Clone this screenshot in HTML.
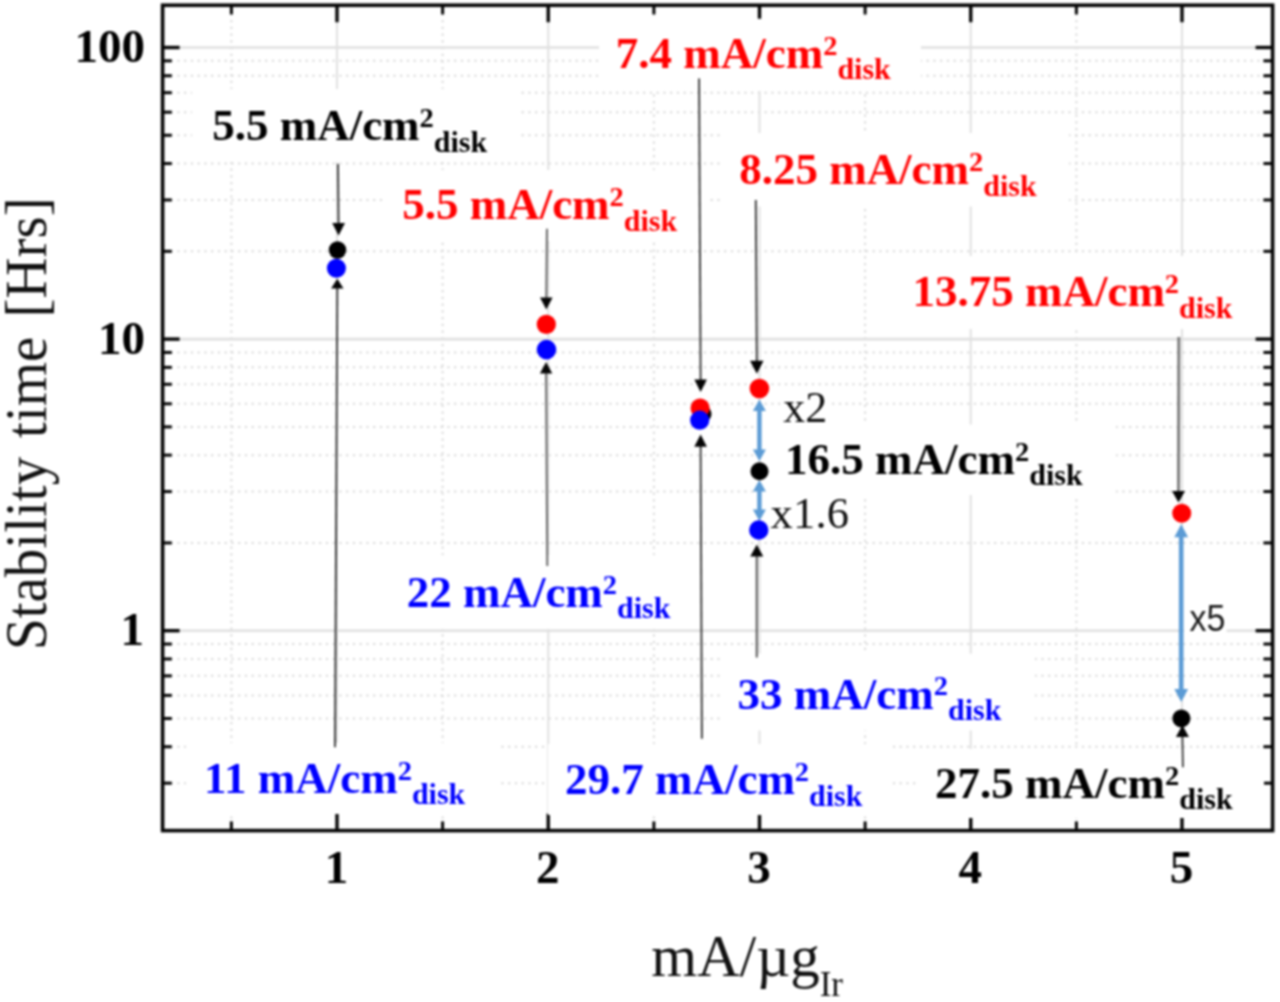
<!DOCTYPE html>
<html lang="en">
<head>
<meta charset="utf-8">
<title>Stability time vs mass activity</title>
<style>
html,body{margin:0;padding:0;background:#fff;}
body{width:1280px;height:1002px;overflow:hidden;}
svg{display:block;}
</style>
</head>
<body>
<svg width="1280" height="1002" viewBox="0 0 1280 1002">
<defs><filter id="soft" x="0" y="0" width="1280" height="1002" filterUnits="userSpaceOnUse" color-interpolation-filters="sRGB"><feGaussianBlur stdDeviation="0.8"/></filter></defs>
<g filter="url(#soft)">
<rect x="-20" y="-20" width="1320" height="1042" fill="#fff"/>
<g id="grid" fill="none">
<line x1="170.60" y1="783.17" x2="1264.60" y2="783.17" stroke="#dadada" stroke-width="2" stroke-dasharray="2.2 4.55"/>
<line x1="170.60" y1="746.74" x2="1264.60" y2="746.74" stroke="#dadada" stroke-width="2" stroke-dasharray="2.2 4.55"/>
<line x1="170.60" y1="718.48" x2="1264.60" y2="718.48" stroke="#dadada" stroke-width="2" stroke-dasharray="2.2 4.55"/>
<line x1="170.60" y1="695.39" x2="1264.60" y2="695.39" stroke="#dadada" stroke-width="2" stroke-dasharray="2.2 4.55"/>
<line x1="170.60" y1="675.87" x2="1264.60" y2="675.87" stroke="#dadada" stroke-width="2" stroke-dasharray="2.2 4.55"/>
<line x1="170.60" y1="658.96" x2="1264.60" y2="658.96" stroke="#dadada" stroke-width="2" stroke-dasharray="2.2 4.55"/>
<line x1="170.60" y1="644.04" x2="1264.60" y2="644.04" stroke="#dadada" stroke-width="2" stroke-dasharray="2.2 4.55"/>
<line x1="170.60" y1="542.92" x2="1264.60" y2="542.92" stroke="#dadada" stroke-width="2" stroke-dasharray="2.2 4.55"/>
<line x1="170.60" y1="491.57" x2="1264.60" y2="491.57" stroke="#dadada" stroke-width="2" stroke-dasharray="2.2 4.55"/>
<line x1="170.60" y1="455.14" x2="1264.60" y2="455.14" stroke="#dadada" stroke-width="2" stroke-dasharray="2.2 4.55"/>
<line x1="170.60" y1="426.88" x2="1264.60" y2="426.88" stroke="#dadada" stroke-width="2" stroke-dasharray="2.2 4.55"/>
<line x1="170.60" y1="403.79" x2="1264.60" y2="403.79" stroke="#dadada" stroke-width="2" stroke-dasharray="2.2 4.55"/>
<line x1="170.60" y1="384.27" x2="1264.60" y2="384.27" stroke="#dadada" stroke-width="2" stroke-dasharray="2.2 4.55"/>
<line x1="170.60" y1="367.36" x2="1264.60" y2="367.36" stroke="#dadada" stroke-width="2" stroke-dasharray="2.2 4.55"/>
<line x1="170.60" y1="352.44" x2="1264.60" y2="352.44" stroke="#dadada" stroke-width="2" stroke-dasharray="2.2 4.55"/>
<line x1="170.60" y1="251.32" x2="1264.60" y2="251.32" stroke="#dadada" stroke-width="2" stroke-dasharray="2.2 4.55"/>
<line x1="170.60" y1="199.97" x2="1264.60" y2="199.97" stroke="#dadada" stroke-width="2" stroke-dasharray="2.2 4.55"/>
<line x1="170.60" y1="163.54" x2="1264.60" y2="163.54" stroke="#dadada" stroke-width="2" stroke-dasharray="2.2 4.55"/>
<line x1="170.60" y1="135.28" x2="1264.60" y2="135.28" stroke="#dadada" stroke-width="2" stroke-dasharray="2.2 4.55"/>
<line x1="170.60" y1="112.19" x2="1264.60" y2="112.19" stroke="#dadada" stroke-width="2" stroke-dasharray="2.2 4.55"/>
<line x1="170.60" y1="92.67" x2="1264.60" y2="92.67" stroke="#dadada" stroke-width="2" stroke-dasharray="2.2 4.55"/>
<line x1="170.60" y1="75.76" x2="1264.60" y2="75.76" stroke="#dadada" stroke-width="2" stroke-dasharray="2.2 4.55"/>
<line x1="170.60" y1="60.84" x2="1264.60" y2="60.84" stroke="#dadada" stroke-width="2" stroke-dasharray="2.2 4.55"/>
<line x1="231.38" y1="13.20" x2="231.38" y2="822.60" stroke="#dadada" stroke-width="2" stroke-dasharray="2.2 4.55"/>
<line x1="442.62" y1="13.20" x2="442.62" y2="822.60" stroke="#dadada" stroke-width="2" stroke-dasharray="2.2 4.55"/>
<line x1="653.88" y1="13.20" x2="653.88" y2="822.60" stroke="#dadada" stroke-width="2" stroke-dasharray="2.2 4.55"/>
<line x1="865.12" y1="13.20" x2="865.12" y2="822.60" stroke="#dadada" stroke-width="2" stroke-dasharray="2.2 4.55"/>
<line x1="1076.38" y1="13.20" x2="1076.38" y2="822.60" stroke="#dadada" stroke-width="2" stroke-dasharray="2.2 4.55"/>
<line x1="162.60" y1="630.70" x2="1272.60" y2="630.70" stroke="#e0e0e0" stroke-width="2.6"/>
<line x1="162.60" y1="339.10" x2="1272.60" y2="339.10" stroke="#e0e0e0" stroke-width="2.6"/>
<line x1="162.60" y1="47.50" x2="1272.60" y2="47.50" stroke="#e0e0e0" stroke-width="2.6"/>
<line x1="337.00" y1="5.20" x2="337.00" y2="830.60" stroke="#e0e0e0" stroke-width="2"/>
<line x1="548.25" y1="5.20" x2="548.25" y2="830.60" stroke="#e0e0e0" stroke-width="2"/>
<line x1="759.50" y1="5.20" x2="759.50" y2="830.60" stroke="#e0e0e0" stroke-width="2"/>
<line x1="970.75" y1="5.20" x2="970.75" y2="830.60" stroke="#e0e0e0" stroke-width="2"/>
<line x1="1182.00" y1="5.20" x2="1182.00" y2="830.60" stroke="#e0e0e0" stroke-width="2"/>
</g>
<g id="axes" stroke="#050505" fill="none">
<rect x="162.60" y="5.20" width="1110.00" height="825.40" stroke-width="3.60"/>
<line x1="162.60" y1="783.17" x2="171.80" y2="783.17" stroke-width="3.0"/>
<line x1="1272.60" y1="783.17" x2="1263.40" y2="783.17" stroke-width="3.0"/>
<line x1="162.60" y1="746.74" x2="171.80" y2="746.74" stroke-width="3.0"/>
<line x1="1272.60" y1="746.74" x2="1263.40" y2="746.74" stroke-width="3.0"/>
<line x1="162.60" y1="718.48" x2="171.80" y2="718.48" stroke-width="3.0"/>
<line x1="1272.60" y1="718.48" x2="1263.40" y2="718.48" stroke-width="3.0"/>
<line x1="162.60" y1="695.39" x2="171.80" y2="695.39" stroke-width="3.0"/>
<line x1="1272.60" y1="695.39" x2="1263.40" y2="695.39" stroke-width="3.0"/>
<line x1="162.60" y1="675.87" x2="171.80" y2="675.87" stroke-width="3.0"/>
<line x1="1272.60" y1="675.87" x2="1263.40" y2="675.87" stroke-width="3.0"/>
<line x1="162.60" y1="658.96" x2="171.80" y2="658.96" stroke-width="3.0"/>
<line x1="1272.60" y1="658.96" x2="1263.40" y2="658.96" stroke-width="3.0"/>
<line x1="162.60" y1="644.04" x2="171.80" y2="644.04" stroke-width="3.0"/>
<line x1="1272.60" y1="644.04" x2="1263.40" y2="644.04" stroke-width="3.0"/>
<line x1="162.60" y1="630.70" x2="179.60" y2="630.70" stroke-width="3.4"/>
<line x1="1272.60" y1="630.70" x2="1255.60" y2="630.70" stroke-width="3.4"/>
<line x1="162.60" y1="542.92" x2="171.80" y2="542.92" stroke-width="3.0"/>
<line x1="1272.60" y1="542.92" x2="1263.40" y2="542.92" stroke-width="3.0"/>
<line x1="162.60" y1="491.57" x2="171.80" y2="491.57" stroke-width="3.0"/>
<line x1="1272.60" y1="491.57" x2="1263.40" y2="491.57" stroke-width="3.0"/>
<line x1="162.60" y1="455.14" x2="171.80" y2="455.14" stroke-width="3.0"/>
<line x1="1272.60" y1="455.14" x2="1263.40" y2="455.14" stroke-width="3.0"/>
<line x1="162.60" y1="426.88" x2="171.80" y2="426.88" stroke-width="3.0"/>
<line x1="1272.60" y1="426.88" x2="1263.40" y2="426.88" stroke-width="3.0"/>
<line x1="162.60" y1="403.79" x2="171.80" y2="403.79" stroke-width="3.0"/>
<line x1="1272.60" y1="403.79" x2="1263.40" y2="403.79" stroke-width="3.0"/>
<line x1="162.60" y1="384.27" x2="171.80" y2="384.27" stroke-width="3.0"/>
<line x1="1272.60" y1="384.27" x2="1263.40" y2="384.27" stroke-width="3.0"/>
<line x1="162.60" y1="367.36" x2="171.80" y2="367.36" stroke-width="3.0"/>
<line x1="1272.60" y1="367.36" x2="1263.40" y2="367.36" stroke-width="3.0"/>
<line x1="162.60" y1="352.44" x2="171.80" y2="352.44" stroke-width="3.0"/>
<line x1="1272.60" y1="352.44" x2="1263.40" y2="352.44" stroke-width="3.0"/>
<line x1="162.60" y1="339.10" x2="179.60" y2="339.10" stroke-width="3.4"/>
<line x1="1272.60" y1="339.10" x2="1255.60" y2="339.10" stroke-width="3.4"/>
<line x1="162.60" y1="251.32" x2="171.80" y2="251.32" stroke-width="3.0"/>
<line x1="1272.60" y1="251.32" x2="1263.40" y2="251.32" stroke-width="3.0"/>
<line x1="162.60" y1="199.97" x2="171.80" y2="199.97" stroke-width="3.0"/>
<line x1="1272.60" y1="199.97" x2="1263.40" y2="199.97" stroke-width="3.0"/>
<line x1="162.60" y1="163.54" x2="171.80" y2="163.54" stroke-width="3.0"/>
<line x1="1272.60" y1="163.54" x2="1263.40" y2="163.54" stroke-width="3.0"/>
<line x1="162.60" y1="135.28" x2="171.80" y2="135.28" stroke-width="3.0"/>
<line x1="1272.60" y1="135.28" x2="1263.40" y2="135.28" stroke-width="3.0"/>
<line x1="162.60" y1="112.19" x2="171.80" y2="112.19" stroke-width="3.0"/>
<line x1="1272.60" y1="112.19" x2="1263.40" y2="112.19" stroke-width="3.0"/>
<line x1="162.60" y1="92.67" x2="171.80" y2="92.67" stroke-width="3.0"/>
<line x1="1272.60" y1="92.67" x2="1263.40" y2="92.67" stroke-width="3.0"/>
<line x1="162.60" y1="75.76" x2="171.80" y2="75.76" stroke-width="3.0"/>
<line x1="1272.60" y1="75.76" x2="1263.40" y2="75.76" stroke-width="3.0"/>
<line x1="162.60" y1="60.84" x2="171.80" y2="60.84" stroke-width="3.0"/>
<line x1="1272.60" y1="60.84" x2="1263.40" y2="60.84" stroke-width="3.0"/>
<line x1="162.60" y1="47.50" x2="179.60" y2="47.50" stroke-width="3.4"/>
<line x1="1272.60" y1="47.50" x2="1255.60" y2="47.50" stroke-width="3.4"/>
<line x1="231.38" y1="5.20" x2="231.38" y2="14.40" stroke-width="3.0"/>
<line x1="231.38" y1="830.60" x2="231.38" y2="821.40" stroke-width="3.0"/>
<line x1="337.00" y1="5.20" x2="337.00" y2="22.20" stroke-width="3.4"/>
<line x1="337.00" y1="830.60" x2="337.00" y2="813.60" stroke-width="3.4"/>
<line x1="442.62" y1="5.20" x2="442.62" y2="14.40" stroke-width="3.0"/>
<line x1="442.62" y1="830.60" x2="442.62" y2="821.40" stroke-width="3.0"/>
<line x1="548.25" y1="5.20" x2="548.25" y2="22.20" stroke-width="3.4"/>
<line x1="548.25" y1="830.60" x2="548.25" y2="813.60" stroke-width="3.4"/>
<line x1="653.88" y1="5.20" x2="653.88" y2="14.40" stroke-width="3.0"/>
<line x1="653.88" y1="830.60" x2="653.88" y2="821.40" stroke-width="3.0"/>
<line x1="759.50" y1="5.20" x2="759.50" y2="22.20" stroke-width="3.4"/>
<line x1="759.50" y1="830.60" x2="759.50" y2="813.60" stroke-width="3.4"/>
<line x1="865.12" y1="5.20" x2="865.12" y2="14.40" stroke-width="3.0"/>
<line x1="865.12" y1="830.60" x2="865.12" y2="821.40" stroke-width="3.0"/>
<line x1="970.75" y1="5.20" x2="970.75" y2="22.20" stroke-width="3.4"/>
<line x1="970.75" y1="830.60" x2="970.75" y2="813.60" stroke-width="3.4"/>
<line x1="1076.38" y1="5.20" x2="1076.38" y2="14.40" stroke-width="3.0"/>
<line x1="1076.38" y1="830.60" x2="1076.38" y2="821.40" stroke-width="3.0"/>
<line x1="1182.00" y1="5.20" x2="1182.00" y2="22.20" stroke-width="3.4"/>
<line x1="1182.00" y1="830.60" x2="1182.00" y2="813.60" stroke-width="3.4"/>
</g>
<g id="boxes" fill="#fff">
<rect x="192.00" y="89.00" width="326.00" height="73.00"/>
<rect x="386.00" y="170.00" width="320.00" height="71.00"/>
<rect x="599.00" y="18.75" width="322.00" height="72.25"/>
<rect x="723.00" y="133.00" width="346.00" height="73.50"/>
<rect x="896.00" y="256.00" width="369.00" height="73.00"/>
<rect x="763.00" y="424.50" width="353.00" height="70.50"/>
<rect x="388.00" y="555.00" width="310.00" height="74.00"/>
<rect x="723.75" y="653.75" width="311.25" height="76.75"/>
<rect x="186.00" y="743.00" width="311.00" height="71.00"/>
<rect x="548.00" y="744.00" width="345.00" height="71.00"/>
<rect x="919.00" y="749.00" width="345.00" height="69.00"/>
<rect x="781.00" y="390.00" width="47.00" height="34.50"/>
<rect x="766.00" y="495.00" width="86.00" height="43.00"/>
<rect x="1184.00" y="598.00" width="42.50" height="39.00"/>
</g>
<g id="arrows">
<line x1="338.00" y1="164.00" x2="338.60" y2="224.00" stroke="#383838" stroke-width="1.90"/>
<polygon points="332.20,223.00 345.00,223.00 338.60,235.60" fill="#050505"/>
<line x1="335.00" y1="747.30" x2="337.30" y2="287.50" stroke="#383838" stroke-width="1.90"/>
<polygon points="331.10,288.50 343.50,288.50 337.30,278.70" fill="#050505"/>
<line x1="547.00" y1="228.75" x2="546.30" y2="298.60" stroke="#666" stroke-width="2.00"/>
<polygon points="540.00,297.60 552.60,297.60 546.30,309.40" fill="#050505"/>
<line x1="547.30" y1="566.00" x2="546.10" y2="372.50" stroke="#666" stroke-width="2.00"/>
<polygon points="539.90,373.50 552.30,373.50 546.10,362.00" fill="#050505"/>
<line x1="699.10" y1="78.40" x2="700.60" y2="380.60" stroke="#383838" stroke-width="1.90"/>
<polygon points="694.30,379.60 706.90,379.60 700.60,392.00" fill="#050505"/>
<line x1="701.90" y1="738.75" x2="700.60" y2="445.80" stroke="#383838" stroke-width="1.90"/>
<polygon points="694.30,446.80 706.90,446.80 700.60,434.60" fill="#050505"/>
<line x1="755.80" y1="200.00" x2="756.80" y2="361.75" stroke="#383838" stroke-width="1.90"/>
<polygon points="750.05,360.75 763.55,360.75 756.80,373.75" fill="#050505"/>
<line x1="756.75" y1="657.50" x2="756.75" y2="555.50" stroke="#555" stroke-width="2.00"/>
<polygon points="750.25,556.50 763.25,556.50 756.75,544.50" fill="#050505"/>
<line x1="1178.80" y1="337.00" x2="1178.50" y2="492.10" stroke="#777" stroke-width="2.80"/>
<polygon points="1172.00,491.10 1185.00,491.10 1178.50,502.60" fill="#050505"/>
<line x1="1182.90" y1="767.30" x2="1182.40" y2="736.00" stroke="#383838" stroke-width="1.80"/>
<polygon points="1175.90,737.00 1188.90,737.00 1182.40,725.00" fill="#050505"/>
<line x1="759.40" y1="410.00" x2="759.40" y2="450.50" stroke="#5b9bd5" stroke-width="4.40"/>
<polygon points="752.90,411.00 765.90,411.00 759.40,399.50" fill="#5b9bd5"/>
<polygon points="752.90,449.50 765.90,449.50 759.40,461.00" fill="#5b9bd5"/>
<line x1="759.40" y1="490.50" x2="759.40" y2="510.50" stroke="#5b9bd5" stroke-width="4.40"/>
<polygon points="752.90,491.50 765.90,491.50 759.40,480.00" fill="#5b9bd5"/>
<polygon points="752.90,509.50 765.90,509.50 759.40,521.00" fill="#5b9bd5"/>
<line x1="1181.20" y1="536.20" x2="1181.20" y2="690.00" stroke="#5b9bd5" stroke-width="4.60"/>
<polygon points="1174.30,537.20 1188.10,537.20 1181.20,524.20" fill="#5b9bd5"/>
<polygon points="1174.30,689.00 1188.10,689.00 1181.20,702.00" fill="#5b9bd5"/>
</g>
<g id="dots">
<circle cx="337.50" cy="250.00" r="8.70" fill="#000"/>
<circle cx="336.40" cy="268.30" r="9.50" fill="#0000ff"/>
<circle cx="546.30" cy="324.40" r="9.60" fill="#ff0000"/>
<circle cx="546.50" cy="349.60" r="9.80" fill="#0000ff"/>
<circle cx="703.30" cy="414.00" r="8.20" fill="#000"/>
<circle cx="700.10" cy="408.00" r="9.60" fill="#ff0000"/>
<circle cx="699.70" cy="420.20" r="9.60" fill="#0000ff"/>
<circle cx="759.40" cy="388.50" r="9.80" fill="#ff0000"/>
<circle cx="759.50" cy="471.25" r="9.00" fill="#000"/>
<circle cx="758.75" cy="530.00" r="9.70" fill="#0000ff"/>
<circle cx="1181.75" cy="513.25" r="9.50" fill="#ff0000"/>
<circle cx="1181.40" cy="718.40" r="9.00" fill="#000"/>
</g>
<g id="labels">
<text transform="translate(212.20,140.40) scale(1,0.965)" fill="#000" font-family="'Liberation Serif','Times New Roman',Times,serif" font-weight="700" font-size="45.0" xml:space="preserve">5.5 mA/cm<tspan font-size="28.5" dy="-13.5">2</tspan><tspan font-size="30.0" dy="25.5">disk</tspan></text>
<text transform="translate(402.20,219.30) scale(1,0.965)" fill="#ff0000" font-family="'Liberation Serif','Times New Roman',Times,serif" font-weight="700" font-size="45.0" xml:space="preserve">5.5 mA/cm<tspan font-size="28.5" dy="-13.5">2</tspan><tspan font-size="30.0" dy="25.5">disk</tspan></text>
<text transform="translate(615.80,67.90) scale(1,0.965)" fill="#ff0000" font-family="'Liberation Serif','Times New Roman',Times,serif" font-weight="700" font-size="45.0" xml:space="preserve">7.4 mA/cm<tspan font-size="28.5" dy="-13.5">2</tspan><tspan font-size="30.0" dy="25.5">disk</tspan></text>
<text transform="translate(739.20,184.00) scale(1,0.965)" fill="#ff0000" font-family="'Liberation Serif','Times New Roman',Times,serif" font-weight="700" font-size="45.0" xml:space="preserve">8.25 mA/cm<tspan font-size="28.5" dy="-13.5">2</tspan><tspan font-size="30.0" dy="25.5">disk</tspan></text>
<text transform="translate(912.50,306.30) scale(1,0.965)" fill="#ff0000" font-family="'Liberation Serif','Times New Roman',Times,serif" font-weight="700" font-size="45.0" xml:space="preserve">13.75 mA/cm<tspan font-size="28.5" dy="-13.5">2</tspan><tspan font-size="30.0" dy="25.5">disk</tspan></text>
<text transform="translate(785.10,473.75) scale(1,0.965)" fill="#000" font-family="'Liberation Serif','Times New Roman',Times,serif" font-weight="700" font-size="45.0" xml:space="preserve">16.5 mA/cm<tspan font-size="28.5" dy="-13.5">2</tspan><tspan font-size="30.0" dy="25.5">disk</tspan></text>
<text transform="translate(406.70,606.80) scale(1,0.965)" fill="#0000ff" font-family="'Liberation Serif','Times New Roman',Times,serif" font-weight="700" font-size="45.0" xml:space="preserve">22 mA/cm<tspan font-size="28.5" dy="-13.5">2</tspan><tspan font-size="30.0" dy="25.5">disk</tspan></text>
<text transform="translate(737.60,708.50) scale(1,0.965)" fill="#0000ff" font-family="'Liberation Serif','Times New Roman',Times,serif" font-weight="700" font-size="45.0" xml:space="preserve">33 mA/cm<tspan font-size="28.5" dy="-13.5">2</tspan><tspan font-size="30.0" dy="25.5">disk</tspan></text>
<text transform="translate(204.00,792.60) scale(1,0.965)" fill="#0000ff" font-family="'Liberation Serif','Times New Roman',Times,serif" font-weight="700" font-size="45.0" xml:space="preserve">11 mA/cm<tspan font-size="28.5" dy="-13.5">2</tspan><tspan font-size="30.0" dy="25.5">disk</tspan></text>
<text transform="translate(565.00,794.00) scale(1,0.965)" fill="#0000ff" font-family="'Liberation Serif','Times New Roman',Times,serif" font-weight="700" font-size="45.0" xml:space="preserve">29.7 mA/cm<tspan font-size="28.5" dy="-13.5">2</tspan><tspan font-size="30.0" dy="25.5">disk</tspan></text>
<text transform="translate(935.10,797.60) scale(1,0.965)" fill="#000" font-family="'Liberation Serif','Times New Roman',Times,serif" font-weight="700" font-size="45.0" xml:space="preserve">27.5 mA/cm<tspan font-size="28.5" dy="-13.5">2</tspan><tspan font-size="30.0" dy="25.5">disk</tspan></text>
<text x="783.3" y="421.8" fill="#111" font-family="'Liberation Serif','Times New Roman',Times,serif" font-size="44">x2</text>
<text x="770.6" y="527.6" fill="#111" font-family="'Liberation Serif','Times New Roman',Times,serif" font-size="44.5" letter-spacing="0.2">x1.6</text>
<text transform="translate(1189.5,630.6) scale(0.92,1)" fill="#1a1a1a" font-family="'Liberation Sans',Arial,Helvetica,sans-serif" font-size="37">x5</text>
</g>
<g id="ticklabels" fill="#000" font-family="'Liberation Serif','Times New Roman',Times,serif" font-weight="700" font-size="47">
<text x="145.0" y="62.00" text-anchor="end">100</text>
<text x="145.0" y="353.60" text-anchor="end">10</text>
<text x="144.0" y="645.20" text-anchor="end">1</text>
<text x="336.50" y="883.0" text-anchor="middle">1</text>
<text x="547.75" y="883.0" text-anchor="middle">2</text>
<text x="759.00" y="883.0" text-anchor="middle">3</text>
<text x="970.25" y="883.0" text-anchor="middle">4</text>
<text x="1181.50" y="883.0" text-anchor="middle">5</text>
</g>
<text transform="translate(46,650) rotate(-90) scale(0.95,1)" fill="#111" font-family="'Liberation Serif','Times New Roman',Times,serif" font-size="60" word-spacing="5">Stability time [Hrs]</text>
<text x="651.3" y="975.6" fill="#111" font-family="'Liberation Serif','Times New Roman',Times,serif" font-size="59">mA/µg<tspan font-size="35" dy="20.2">Ir</tspan></text>
</g>
</svg>
</body>
</html>
